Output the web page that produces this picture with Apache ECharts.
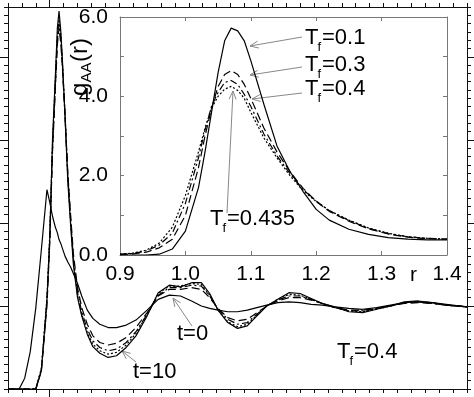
<!DOCTYPE html>
<html>
<head>
<meta charset="utf-8">
<script src="https://cdn.jsdelivr.net/npm/echarts@6/dist/echarts.min.js"></script>
<style>
html, body { margin: 0; padding: 0; background: #fff; }
#chart { width: 474px; height: 397px; }
</style>
</head>
<body>
<div id="chart"></div>
<script>
// main panel: g_AA(r) after a quench to T_f = 0.4, several waiting times
const rMain = [0.70, 0.78, 0.82, 0.86, 0.90, 0.94, 0.98, 1.00, 1.02, 1.04, 1.055, 1.067, 1.08, 1.09, 1.11, 1.13, 1.15, 1.17, 1.20, 1.23, 1.27, 1.31, 1.36, 1.42, 1.48, 1.55, 1.62, 1.70, 1.78, 1.86, 1.94, 2.02, 2.09, 2.15, 2.21, 2.28, 2.35, 2.42, 2.49, 2.56, 2.64, 2.72, 2.80, 2.88, 2.96, 3.05, 3.15, 3.25, 3.35, 3.45, 3.55, 3.65, 3.75, 3.85, 4.00];
const gT0 = [0, 0, 0.13, 0.45, 0.98, 1.68, 2.4, 2.25, 2.08, 1.95, 1.88, 1.8, 1.75, 1.7, 1.6, 1.53, 1.47, 1.39, 1.27, 1.12, 0.95, 0.85, 0.78, 0.74, 0.74, 0.77, 0.83, 0.95, 1.08, 1.13, 1.12, 1.06, 1.0, 0.97, 0.95, 0.93, 0.93, 0.95, 0.98, 1.01, 1.04, 1.05, 1.04, 1.02, 1.01, 0.99, 0.97, 0.96, 0.98, 1.01, 1.04, 1.05, 1.04, 1.02, 0.99];
const gDash = [0, 0, 0, 0, 0, 0.22, 1.0, 1.75, 2.85, 3.6, 4.15, 4.35, 4.15, 3.9, 3.3, 2.6, 2.1, 1.63, 1.22, 0.98, 0.78, 0.64, 0.56, 0.53, 0.55, 0.62, 0.74, 0.92, 1.12, 1.2, 1.2, 1.22, 1.2, 1.1, 0.97, 0.86, 0.82, 0.84, 0.92, 1.0, 1.06, 1.1, 1.1, 1.07, 1.03, 0.98, 0.95, 0.95, 0.97, 1.0, 1.03, 1.04, 1.03, 1.01, 0.99];
const gDashDot = [0, 0, 0, 0, 0, 0.24, 1.05, 1.8, 2.9, 3.65, 4.2, 4.4, 4.2, 3.95, 3.3, 2.58, 2.05, 1.58, 1.16, 0.93, 0.72, 0.58, 0.5, 0.46, 0.48, 0.56, 0.69, 0.9, 1.13, 1.22, 1.22, 1.25, 1.24, 1.12, 0.96, 0.84, 0.78, 0.8, 0.9, 1.0, 1.07, 1.12, 1.12, 1.08, 1.03, 0.98, 0.94, 0.94, 0.97, 1.0, 1.04, 1.05, 1.03, 1.01, 0.99];
const gDot = [0, 0, 0, 0, 0, 0.25, 1.1, 1.85, 2.95, 3.7, 4.25, 4.45, 4.25, 3.95, 3.3, 2.55, 2.02, 1.55, 1.13, 0.9, 0.68, 0.54, 0.46, 0.42, 0.44, 0.53, 0.67, 0.9, 1.15, 1.24, 1.24, 1.27, 1.26, 1.13, 0.95, 0.81, 0.75, 0.78, 0.89, 1.0, 1.08, 1.14, 1.13, 1.08, 1.03, 0.98, 0.94, 0.93, 0.96, 1.0, 1.04, 1.05, 1.04, 1.01, 0.99];
const gT10 = [0, 0, 0, 0, 0, 0.22, 1.07, 1.8, 3.0, 3.75, 4.35, 4.55, 4.3, 4.0, 3.28, 2.5, 1.98, 1.5, 1.1, 0.88, 0.66, 0.51, 0.43, 0.38, 0.4, 0.5, 0.64, 0.88, 1.16, 1.25, 1.23, 1.28, 1.28, 1.15, 0.95, 0.8, 0.73, 0.76, 0.88, 1.0, 1.08, 1.16, 1.15, 1.09, 1.03, 0.99, 0.93, 0.92, 0.96, 1.0, 1.05, 1.06, 1.04, 1.01, 0.99];
const mainXMajor = [1.0];
const mainYMajor = [1, 2, 3, 4];

// inset: first peak for different final temperatures
const rInset = [0.90, 0.92, 0.94, 0.96, 0.98, 1.00, 1.02, 1.03, 1.04, 1.05, 1.06, 1.07, 1.08, 1.09, 1.10, 1.12, 1.14, 1.16, 1.18, 1.20, 1.22, 1.25, 1.28, 1.31, 1.34, 1.37, 1.40];
const gTf01 = [0, 0, 0, 0.02, 0.15, 0.6, 1.7, 2.6, 3.6, 4.6, 5.4, 5.72, 5.65, 5.4, 4.9, 3.8, 2.75, 2.1, 1.6, 1.15, 0.88, 0.65, 0.52, 0.44, 0.4, 0.38, 0.38];
const gTf03 = [0.01, 0.03, 0.07, 0.18, 0.4, 1.0, 2.2, 3.0, 3.7, 4.25, 4.55, 4.65, 4.55, 4.3, 3.95, 3.2, 2.6, 2.1, 1.68, 1.35, 1.1, 0.85, 0.66, 0.53, 0.45, 0.41, 0.4];
const gTf04 = [0.02, 0.04, 0.1, 0.25, 0.55, 1.3, 2.45, 3.15, 3.75, 4.1, 4.35, 4.4, 4.3, 4.05, 3.75, 3.05, 2.5, 2.05, 1.65, 1.36, 1.12, 0.87, 0.67, 0.54, 0.46, 0.42, 0.4];
const gTf0435 = [0.02, 0.05, 0.12, 0.3, 0.7, 1.5, 2.6, 3.2, 3.7, 4.0, 4.18, 4.25, 4.15, 3.95, 3.6, 2.95, 2.45, 2.0, 1.62, 1.35, 1.12, 0.88, 0.68, 0.55, 0.46, 0.42, 0.4];
const insetYLabelled = [0, 2, 4, 6];

const FONT = 'Liberation Sans, Arial, Helvetica, sans-serif';

function pairs(xs, ys) {
  return xs.map((x, i) => [x, ys[i]]);
}

function line(data, xi, yi, type) {
  return {
    type: 'line', xAxisIndex: xi, yAxisIndex: yi, data: data,
    symbol: 'none', silent: true, animation: false,
    lineStyle: { color: '#000', width: 1.2, type: type }
  };
}

function minorAxis(grid, pos, min, max, len) {
  return {
    type: 'value', gridIndex: grid, position: pos, min: min, max: max, interval: 0.1,
    axisLine: { show: true, onZero: false, lineStyle: { color: '#111', width: 1 } },
    axisTick: { show: true, inside: false, length: len, lineStyle: { color: '#111' } },
    axisLabel: { show: false }, splitLine: { show: false }
  };
}

function majorAxis(grid, pos, min, max, vals) {
  return {
    type: 'value', gridIndex: grid, position: pos, min: min, max: max,
    axisLine: { show: false, onZero: false },
    axisTick: { show: true, inside: false, length: 8, customValues: vals, lineStyle: { color: '#111' } },
    axisLabel: { show: false }, splitLine: { show: false }
  };
}

function insetAxis(pos, min, max, interval, labels) {
  return {
    type: 'value', gridIndex: 1, position: pos, min: min, max: max, interval: interval,
    axisLine: { show: true, onZero: false, lineStyle: { color: '#777', width: 1 } },
    axisTick: { show: true, inside: true, length: 4, lineStyle: { color: '#777' } },
    axisLabel: labels, splitLine: { show: false }
  };
}

function arrow(x1, y1, x2, y2) {
  const a = Math.atan2(y2 - y1, x2 - x1), L = 9, w = 0.4;
  return [
    { type: 'line', shape: { x1: x1, y1: y1, x2: x2, y2: y2 }, style: { stroke: '#888', lineWidth: 1 } },
    { type: 'polyline', shape: { points: [
      [x2 - L * Math.cos(a - w), y2 - L * Math.sin(a - w)], [x2, y2],
      [x2 - L * Math.cos(a + w), y2 - L * Math.sin(a + w)]] },
      style: { stroke: '#888', fill: null, lineWidth: 1 } }
  ];
}

function txt(x, y, s, size, rot) {
  return { type: 'text', x: x, y: y, rotation: rot || 0, originX: 0, originY: 0,
    style: { text: s, fill: '#000', fontSize: size, fontFamily: FONT, align: 'left', verticalAlign: 'middle' } };
}

// "T_f=..." label
function tf(x, y, val) {
  return [txt(x, y, 'T', 22), txt(x + 12.5, y + 9, 'f', 13), txt(x + 17, y, '=' + val, 22)];
}

let chart = echarts.init(document.getElementById('chart'), null, { renderer: 'canvas' });

// rotated axis title of the inset
const R = Math.PI / 2;
const gx = 80;
let yLabel = [
  txt(gx, 96, 'g', 24, R),
  txt(gx + 7, 82.5, 'AA', 15, R),
  txt(gx, 62, '(r)', 24, R)
];

let option = {
  backgroundColor: '#fff',
  animation: false,
  grid: [
    { left: 8, right: 7, top: 7, bottom: 8 },
    { left: 120, right: 27, top: 17, bottom: 142 }
  ],
  xAxis: [
    minorAxis(0, 'bottom', 0.7, 4.0, 4),
    minorAxis(0, 'top', 0.7, 4.0, 4),
    majorAxis(0, 'bottom', 0.7, 4.0, mainXMajor),
    majorAxis(0, 'top', 0.7, 4.0, mainXMajor),
    insetAxis('bottom', 0.9, 1.4, 0.1, {
      show: true, margin: 9, color: '#000', fontSize: 21, fontFamily: FONT,
      formatter: v => v.toFixed(1)
    }),
    insetAxis('top', 0.9, 1.4, 0.1, { show: false })
  ],
  yAxis: [
    minorAxis(0, 'left', 0, 4.6, 4),
    minorAxis(0, 'right', 0, 4.6, 4),
    majorAxis(0, 'left', 0, 4.6, mainYMajor),
    majorAxis(0, 'right', 0, 4.6, mainYMajor),
    insetAxis('left', 0, 6, 1, {
      show: true, margin: 12, color: '#000', fontSize: 21, fontFamily: FONT,
      formatter: v => insetYLabelled.indexOf(v) >= 0 ? v.toFixed(1) : ''
    }),
    insetAxis('right', 0, 6, 1, { show: false })
  ],
  series: [
    line(pairs(rMain, gT0), 0, 0, 'solid'),
    line(pairs(rMain, gDash), 0, 0, [8, 4]),
    line(pairs(rMain, gDashDot), 0, 0, [7, 3, 2, 3]),
    line(pairs(rMain, gDot), 0, 0, [2, 2]),
    line(pairs(rMain, gT10), 0, 0, 'solid'),
    line(pairs(rInset, gTf01), 4, 4, 'solid'),
    line(pairs(rInset, gTf03), 4, 4, [8, 4]),
    line(pairs(rInset, gTf04), 4, 4, [7, 3, 2, 3]),
    line(pairs(rInset, gTf0435), 4, 4, [2, 2])
  ],
  graphic: [].concat(
    arrow(302, 37, 250, 46),
    arrow(302, 67, 250, 75),
    arrow(302, 93, 252, 99),
    arrow(227, 213, 233, 91),
    arrow(192, 326, 173, 298),
    arrow(136, 362, 122, 351),
    tf(305, 38, '0.1'),
    tf(305, 65, '0.3'),
    tf(305, 89, '0.4'),
    tf(210, 219, '0.435'),
    tf(337, 352, '0.4'),
    [txt(177, 334, 't=0', 22), txt(133, 372, 't=10', 22), txt(410, 275, 'r', 21)],
    yLabel
  )
};

chart.setOption(option);
</script>
</body>
</html>
